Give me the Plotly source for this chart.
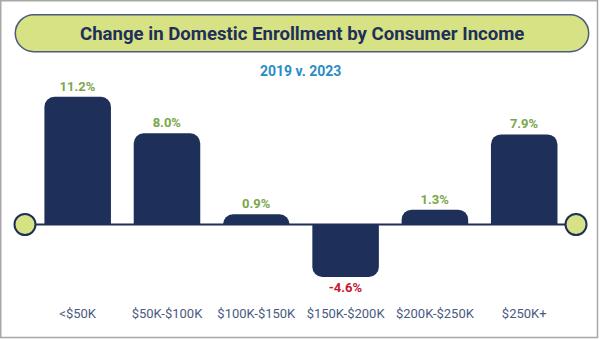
import plotly.graph_objects as go

# --- data -------------------------------------------------------------
income_brackets = ["<$50K", "$50K-$100K", "$100K-$150K", "$150K-$200K", "$200K-$250K", "$250K+"]
pct_change = [11.2, 8.0, 0.9, -4.6, 1.3, 7.9]

title_text = "Change in Domestic Enrollment by Consumer Income"
subtitle_text = "2019 v. 2023"

# --- styling ----------------------------------------------------------
NAVY = "#1e2f5a"
LIME = "#d6e283"
GREEN = "#7aa64a"
RED = "#c8162f"
BLUE = "#2a8cc4"
TICK = "#4a5a82"
FONT = "Roboto"

W, H = 600, 339

positions = list(range(len(income_brackets)))
label_colors = [GREEN if v >= 0 else RED for v in pct_change]

# plot area in figure pixels (margins are zero, so paper == figure)
x_left_px, x_right_px = 10.7, 591.2
y_top_px, y_bot_px = 80.0, 300.0
baseline_px = 224.5
px_per_unit = 11.4
y_max = (baseline_px - y_top_px) / px_per_unit
y_min = -(y_bot_px - baseline_px) / px_per_unit

# end caps of the baseline, in category units
cap_left = -0.59
cap_right = len(income_brackets) - 1 + 0.58

fig = go.Figure()

fig.add_trace(go.Bar(
    x=positions,
    y=pct_change,
    width=0.745,
    marker=dict(color=NAVY, cornerradius=10, line=dict(width=0)),
    text=[f"{v:.1f}%" for v in pct_change],
    textposition="outside",
    textfont=dict(family=FONT, size=13, color=label_colors, weight=700),
    constraintext="none",
    cliponaxis=False,
    hoverinfo="skip",
))

fig.add_trace(go.Scatter(
    x=[cap_left, cap_right],
    y=[0, 0],
    mode="markers",
    marker=dict(size=21, color=LIME, line=dict(color=NAVY, width=2)),
    hoverinfo="skip",
    cliponaxis=False,
))


def pill_path(x0, y0, x1, y1):
    """Rounded-end pill in pixel offsets from the figure's top-left (y up is positive)."""
    r = (y1 - y0) / 2.0
    k = 0.5523 * r
    ym = (y0 + y1) / 2.0
    pts = [
        f"M{x0 + r},{-y0}",
        f"L{x1 - r},{-y0}",
        f"C{x1 - r + k},{-y0} {x1},{-(ym - k)} {x1},{-ym}",
        f"C{x1},{-(ym + k)} {x1 - r + k},{-y1} {x1 - r},{-y1}",
        f"L{x0 + r},{-y1}",
        f"C{x0 + r - k},{-y1} {x0},{-(ym + k)} {x0},{-ym}",
        f"C{x0},{-(ym - k)} {x0 + r - k},{-y0} {x0 + r},{-y0}",
        "Z",
    ]
    return " ".join(pts)


shapes = [
    # outer frame
    dict(type="path", xref="paper", yref="paper", xsizemode="pixel", ysizemode="pixel",
         xanchor=0, yanchor=1,
         path="M0.75,-0.75 L597.5,-0.75 L597.5,-337.6 L0.75,-337.6 Z",
         line=dict(color="#a8a8a8", width=1.5), fillcolor="rgba(0,0,0,0)", layer="above"),
    # title pill
    dict(type="path", xref="paper", yref="paper", xsizemode="pixel", ysizemode="pixel",
         xanchor=0, yanchor=1,
         path=pill_path(15.3, 14.7, 588.7, 51.7),
         line=dict(color="#4b5a7c", width=1.5), fillcolor=LIME, layer="below"),
    # zero baseline
    dict(type="line", xref="x", yref="y", x0=cap_left, x1=cap_right, y0=0, y1=0,
         line=dict(color=NAVY, width=2), layer="below"),
]

annotations = [
    dict(text=title_text, xref="paper", yref="paper", x=302 / W, y=1 - 33.5 / H,
         xanchor="center", yanchor="middle", showarrow=False,
         font=dict(family=FONT, size=18.6, color=NAVY, weight=700)),
    dict(text=subtitle_text, xref="paper", yref="paper", x=300 / W, y=1 - 70.5 / H,
         xanchor="center", yanchor="middle", showarrow=False,
         font=dict(family=FONT, size=14, color=BLUE, weight=700)),
]

fig.update_layout(
    width=W, height=H,
    margin=dict(l=0, r=0, t=0, b=0),
    paper_bgcolor="white", plot_bgcolor="white",
    showlegend=False,
    shapes=shapes,
    annotations=annotations,
    xaxis=dict(
        domain=[x_left_px / W, x_right_px / W],
        range=[-0.75, len(income_brackets) - 0.25],
        tickmode="array", tickvals=positions, ticktext=income_brackets,
        showgrid=False, zeroline=False, showline=False, ticks="",
        tickfont=dict(family=FONT, size=13, color=TICK),
        ticklabelstandoff=4,
        fixedrange=True,
    ),
    yaxis=dict(
        domain=[1 - y_bot_px / H, 1 - y_top_px / H],
        range=[y_min, y_max],
        visible=False, showgrid=False, zeroline=False,
        fixedrange=True,
    ),
    hovermode=False,
)

fig.write_html("out.html", config={"displayModeBar": False})
